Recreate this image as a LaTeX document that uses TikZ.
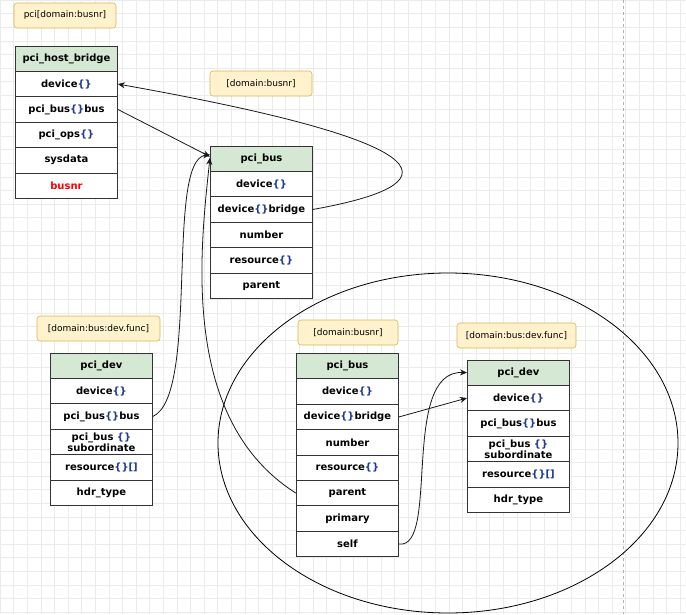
\documentclass[tikz,border=0pt]{standalone}
\usepackage{fontspec}
\setmainfont{DejaVu Sans}
\usetikzlibrary{arrows.meta}
\definecolor{hdr}{HTML}{D5E8D4}
\definecolor{lbl}{HTML}{FFF2CC}
\definecolor{lbld}{HTML}{D6B656}
\definecolor{br}{HTML}{1F3A93}
\newcommand{\B}[1]{\textcolor{br}{#1}}
\tikzset{
 cell/.style={draw=black!80,line width=0.9pt,minimum width=102pt,inner sep=0pt,font=\bfseries\fontsize{10}{9.5}\selectfont,align=center},
 tag/.style={draw=lbld,fill=lbl,rounded corners=3pt,line width=0.6pt,inner sep=0pt,font=\fontsize{9}{10}\selectfont},
 con/.style={-{Stealth[length=7pt,width=6pt]},line width=0.8pt,black!90}
}
\begin{document}
\begin{tikzpicture}[x=1pt,y=-1pt]
\useasboundingbox (0,0) rectangle (686,614);
\foreach \g in {0,13.6,...,686} \draw[black!8] (\g,0) -- (\g,614);
\foreach \g in {0,13.6,...,614} \draw[black!8] (0,\g) -- (686,\g);
\draw[black!30,dashed] (623,0) -- (623,614);
\draw[line width=0.8pt] (448,443) ellipse [x radius=230, y radius=170];
% tags
\node[tag,minimum width=102pt,minimum height=25pt] (t1) at (65,15.5) {pci[domain:busnr]};
\node[tag,minimum width=102pt,minimum height=25pt] (t2) at (261,83.5) {[domain:busnr]};
\node[tag,minimum width=123pt,minimum height=25pt] (t3) at (98.5,328.5) {[domain:bus:dev.func]};
\node[tag,minimum width=100pt,minimum height=25pt] (t4) at (348,332.5) {[domain:busnr]};
\node[tag,minimum width=119pt,minimum height=25pt] (t5) at (516.5,335.5) {[domain:bus:dev.func]};
\newcommand{\tbl}[4]{% name, x, ytop, rows list
 \foreach \t [count=\i from 0] in {#4} {
  \pgfmathsetmacro\yy{#3+\i*25.4}
  \ifnum\i=0
   \node[cell,fill=hdr,minimum height=25.4pt,anchor=north west] (#1-\i) at (#2,\yy) {\t};
  \else
   \node[cell,fill=white,minimum height=25.4pt,anchor=north west] (#1-\i) at (#2,\yy) {\t};
  \fi}}
\tbl{hb}{15}{45.5}{pci\_host\_bridge,device\B{\{\}},pci\_bus\B{\{\}}bus,pci\_ops\B{\{\}},sysdata,\textcolor{red}{busnr}}
\tbl{pb}{210}{145.5}{pci\_bus,device\B{\{\}},device\B{\{\}}bridge,number,resource\B{\{\}},parent}
\tbl{pd}{50}{352.5}{pci\_dev,device\B{\{\}},pci\_bus\B{\{\}}bus,{pci\_bus \B{\{\}}\\subordinate},resource\B{\{\}[]},hdr\_type}
\tbl{qb}{296}{353}{pci\_bus,device\B{\{\}},device\B{\{\}}bridge,number,resource\B{\{\}},parent,primary,self}
\tbl{qd}{467}{359.5}{pci\_dev,device\B{\{\}},pci\_bus\B{\{\}}bus,{pci\_bus \B{\{\}}\\subordinate},resource\B{\{\}[]},hdr\_type}
% connectors
\draw[con] (hb-2.east) -- ([yshift=2pt]pb-0.west);
\draw[con] (pb-2.east) .. controls (450,185) and (460,145) .. (hb-1.east);
\draw[con] (pd-2.east) .. controls (200,395) and (165,160) .. ([yshift=4pt]pb-0.west);
\draw[con] (qb-5.west) .. controls (180,420) and (200,250) .. ([yshift=1pt]pb-0.west);
\draw[con] (qb-2.east) -- (qd-1.west);
\draw[con] (qb-7.east) .. controls (440,550) and (400,370) .. (qd-0.west);
\end{tikzpicture}
\end{document}
